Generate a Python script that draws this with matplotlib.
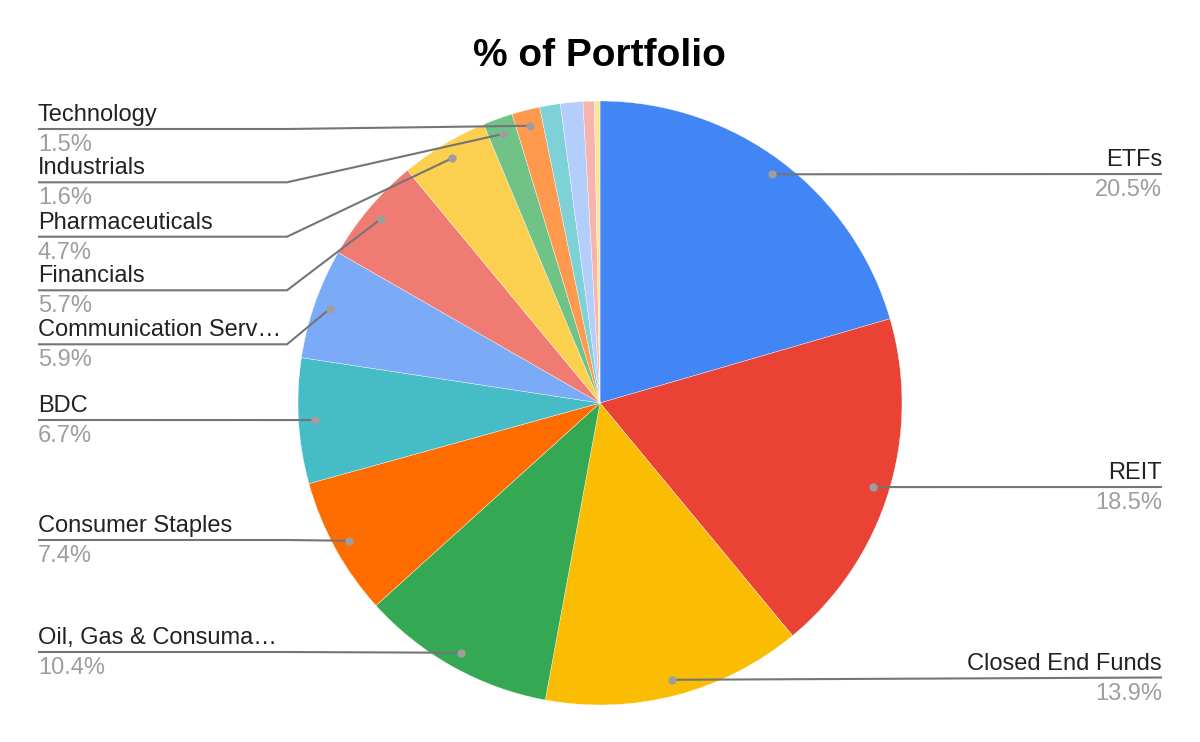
import numpy as np
import matplotlib
matplotlib.use("Agg")
import matplotlib.pyplot as plt

# ---- data ----
categories = ["ETFs", "REIT", "Closed End Funds", "Oil, Gas & Consuma\u2026",
              "Consumer Staples", "BDC", "Communication Serv\u2026", "Financials",
              "Pharmaceuticals", "Industrials", "Technology",
              "Other A", "Other B", "Other C", "Other D"]
values = [20.5, 18.5, 13.9, 10.4, 7.4, 6.7, 5.9, 5.7, 4.7, 1.6, 1.5,
          1.1, 1.2, 0.6, 0.3]
pct_labels = ["20.5%", "18.5%", "13.9%", "10.4%", "7.4%", "6.7%", "5.9%",
              "5.7%", "4.7%", "1.6%", "1.5%", None, None, None, None]
colors = ["#4285F4", "#EA4335", "#FBBC04", "#34A853", "#FF6D01", "#46BDC6",
          "#7BAAF7", "#F07B72", "#FCD04F", "#71C287", "#FF994D", "#7ED1D7",
          "#B3CEFB", "#F7B4AE", "#FDE49B"]
title = "% of Portfolio"

# ---- layout (pixel space, y measured from top) ----
W, H = 1200, 742
cx, cy_top, R = 600, 403, 302
label_side = ["R", "R", "R", "L", "L", "L", "L", "L", "L", "L", "L",
              None, None, None, None]
label_line_y = [174, 487, 677.5, 652, 540, 420, 344.3, 290.3, 236.7, 182.3, 129,
                None, None, None, None]

plt.rcParams['font.family'] = ['Liberation Sans', 'DejaVu Sans']

fig = plt.figure(figsize=(W / 100, H / 100), dpi=100)
ax = fig.add_axes([0, 0, 1, 1])

def Y(y):
    return H - y

center = (cx, Y(cy_top))
wedges, _ = ax.pie(values, colors=colors, startangle=90, counterclock=False,
                   center=center, radius=R,
                   wedgeprops=dict(edgecolor="white", linewidth=0.25))

ax.set_xlim(0, W)
ax.set_ylim(0, H)
ax.set_aspect("equal")
ax.axis("off")

line_col = "#757575"
dot_col = "#9E9E9E"
name_col = "#222222"
pct_col = "#9E9E9E"
fs = 17

left_x = 38
elbow_x = 287
right_x = 1162

for w, name, pct, side, ly in zip(wedges, categories, pct_labels, label_side, label_line_y):
    if side is None:
        continue
    mid = np.deg2rad((w.theta1 + w.theta2) / 2)
    dx = center[0] + 0.947 * R * np.cos(mid)
    dy = center[1] + 0.947 * R * np.sin(mid)
    if side == "R":
        ax.plot([dx, right_x], [dy, Y(ly)], color=line_col, lw=1.5,
                solid_capstyle="butt", zorder=3)
        ax.text(right_x, Y(ly - 8), name, ha="right", va="baseline",
                fontsize=fs, color=name_col)
        ax.text(right_x, Y(ly + 22), pct, ha="right", va="baseline",
                fontsize=fs, color=pct_col)
    else:
        if dx <= elbow_x + 40:
            xs, ys = [left_x, dx], [Y(ly), dy]
        else:
            xs, ys = [left_x, elbow_x, dx], [Y(ly), Y(ly), dy]
        ax.plot(xs, ys, color=line_col, lw=1.5, solid_capstyle="butt", zorder=3)
        ax.text(left_x, Y(ly - 8), name, ha="left", va="baseline",
                fontsize=fs, color=name_col)
        ax.text(left_x, Y(ly + 22), pct, ha="left", va="baseline",
                fontsize=fs, color=pct_col)
    ax.plot([dx], [dy], "o", ms=6, color=dot_col, mec="none", zorder=4)

ax.text(599, Y(66), title, ha="center", va="baseline", fontsize=28,
        fontweight="bold", color="#000000")

fig.savefig("out.png", dpi=100)
